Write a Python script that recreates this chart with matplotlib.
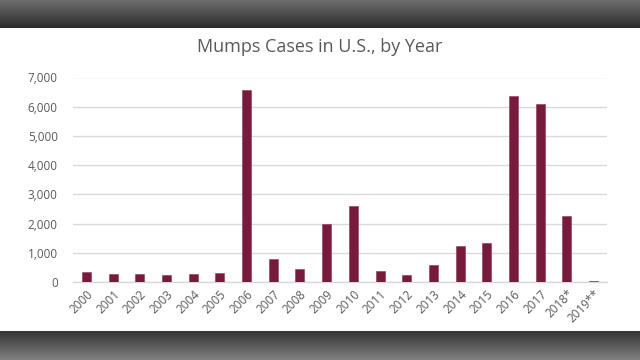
import matplotlib.pyplot as plt
import numpy as np

years = ['2000', '2001', '2002', '2003', '2004', '2005', '2006', '2007', '2008', '2009',
         '2010', '2011', '2012', '2013', '2014', '2015', '2016', '2017', '2018*', '2019**']
cases = [338, 266, 270, 231, 258, 314, 6584, 800, 454, 1991,
         2612, 370, 229, 584, 1223, 1329, 6366, 6109, 2251, 50]
yticks = [0, 1000, 2000, 3000, 4000, 5000, 6000, 7000]

bar_color = '#771a3c'
text_color = '#595959'
grid_color = '#d9d9d9'

plt.rcParams['font.family'] = ['Open Sans', 'DejaVu Sans']

fig = plt.figure(figsize=(6.4, 3.6), dpi=100)
fig.patch.set_facecolor('white')

# dark blurred video bands at top and bottom
top = fig.add_axes([0, 1 - 28 / 360, 1, 28 / 360])
grad = np.linspace(0.43, 0.17, 50)[:, None] * np.ones((1, 10))
top.imshow(grad, cmap='gray', vmin=0, vmax=1, aspect='auto', extent=[0, 1, 0, 1])
top.axis('off')
bot = fig.add_axes([0, 0, 1, 29 / 360])
grad = np.linspace(0.2, 0.5, 50)[:, None] * np.ones((1, 10))
bot.imshow(grad, cmap='gray', vmin=0, vmax=1, aspect='auto', extent=[0, 1, 0, 1])
bot.axis('off')

ax = fig.add_axes([73 / 640, 1 - 282 / 360, 534 / 640, 204.5 / 360])
x = np.arange(len(years))
ax.bar(x, cases, width=0.34, color=bar_color, edgecolor='#8e3456', linewidth=0.4, zorder=3)

ax.set_xlim(-0.5, len(years) - 0.5)
ax.set_ylim(0, 7000)
ax.set_yticks(yticks)
ax.set_yticklabels(['{:,}'.format(v) for v in yticks])
ax.set_xticks(x)
ax.set_xticklabels(years, rotation=45, ha='right', rotation_mode='anchor')
ax.tick_params(axis='y', length=0, pad=11, labelsize=8.5, colors=text_color)
ax.tick_params(axis='x', length=0, pad=4, labelsize=8.5, colors=text_color)
ax.grid(axis='y', color=grid_color, linewidth=1, zorder=0)
for s in ['top', 'right', 'left']:
    ax.spines[s].set_visible(False)
ax.spines['bottom'].set_color(grid_color)
ax.spines['bottom'].set_linewidth(1)

fig.text(0.5, 1 - 47 / 360, 'Mumps Cases in U.S., by Year', ha='center', va='center',
         fontsize=13, color=text_color)

fig.savefig('out.png', dpi=100)
